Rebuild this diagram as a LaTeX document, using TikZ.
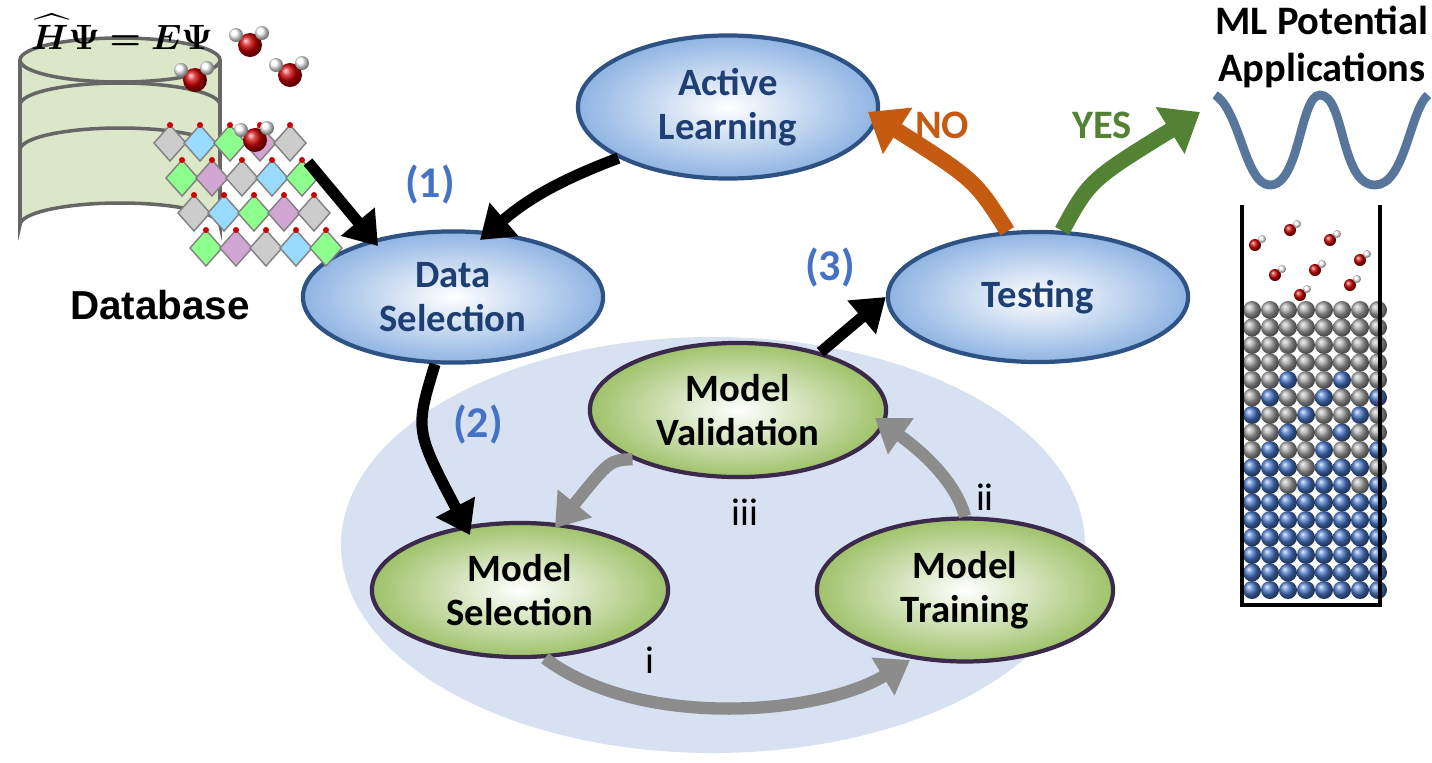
\documentclass[tikz,border=0pt]{standalone}
\usepackage{amsmath}
\usepackage{bm}
\usepackage{fontspec}
\setmainfont{Carlito}
\newfontfamily\arialf{Liberation Sans}
\usetikzlibrary{arrows.meta,shapes.geometric}
\definecolor{bluebord}{HTML}{2E5283}
\definecolor{bluetext}{HTML}{1F3F73}
\definecolor{bluefill}{HTML}{8FB4E3}
\definecolor{greenfill}{HTML}{9FC26A}
\definecolor{greenbord}{HTML}{3B2A4C}
\definecolor{bgblue}{HTML}{D7E1F1}
\definecolor{numblue}{HTML}{4472C4}
\definecolor{noorange}{HTML}{C55A11}
\definecolor{yesgreen}{HTML}{548235}
\definecolor{dbfill}{HTML}{DCE6C8}
\definecolor{ballblue}{HTML}{4A78C8}
\tikzstyle{blue step}=[ellipse, draw=bluebord, line width=1.2pt, inner color=white, outer color=bluefill, minimum width=3cm, minimum height=1.3cm, font=\bfseries\fontsize{11}{12.5}\selectfont, text=bluetext, align=center]
\tikzstyle{green step}=[ellipse, draw=greenbord, line width=1.2pt, inner color=white, outer color=greenfill, minimum width=2.96cm, minimum height=1.24cm, font=\bfseries\fontsize{11}{12.5}\selectfont, align=center]
\tikzstyle{black arrow}=[line width=3.2pt, -{Triangle[length=9pt,width=12pt]}]
\tikzstyle{gray arrow}=[line width=3.5pt, draw=gray!90, -{Triangle[length=9pt,width=12pt]}]
\tikzstyle{wide arrow}=[line width=4.5pt, -{Triangle[length=10pt,width=15pt]}]
\tikzstyle{step label}=[font=\bfseries\fontsize{12.5}{14}\selectfont, text=numblue]
\tikzstyle{roman label}=[font=\fontsize{11}{13}\selectfont]
\begin{document}
\begin{tikzpicture}[x=0.01cm, y=-0.01cm]
  \useasboundingbox (0,0) rectangle (1432,763);
  % background
  \fill [bgblue] (713,545) ellipse [x radius=372, y radius=208];
  % steps
  \node [style=blue step] (al) at (728,107) {Active\\Learning};
  \node [style=blue step] (ds) at (453,297) {Data\\Selection};
  \node [style=blue step] (te) at (1038,297) {Testing};
  \node [style=green step] (mv) at (738,410) {Model\\Validation};
  \node [style=green step] (ms) at (520,590) {Model\\Selection};
  \node [style=green step] (mt) at (965,590) {Model\\Training};
  % database
  \begin{scope}[fill=dbfill, draw=gray!80!black, line width=1pt]
    \filldraw (20,60) -- (20,225) arc [start angle=180, end angle=360, x radius=100, y radius=22] -- (220,60);
    \filldraw (120,60) ellipse [x radius=100, y radius=22];
    \draw (20,105) arc [start angle=180, end angle=360, x radius=100, y radius=22];
    \draw (20,150) arc [start angle=180, end angle=360, x radius=100, y radius=22];
  \end{scope}
  % crystal
  \foreach \i in {0,...,4} {
    \foreach \j in {0,...,3} {
      \pgfmathtruncatemacro{\k}{mod(\i+2*\j,4)}
      \ifcase\k \def\pc{gray!40}\or \def\pc{blue!35!cyan!40}\or \def\pc{green!45}\or \def\pc{violet!35}\fi
      \filldraw [fill=\pc, draw=gray, thin] (170+\i*30+\j*12,125+\j*35) -- +(16,18) -- +(0,36) -- +(-16,18) -- cycle;
      \fill [red!80!black] (170+\i*30+\j*12,125+\j*35) circle (3);
    }
  }
  % molecules
  \foreach \mx/\my in {250/45, 290/75, 195/80, 255/140} {
    \shade [ball color=red!80!black] (\mx,\my) circle (12);
    \shade [ball color=white] (\mx-14,\my-10) circle (7);
    \shade [ball color=white] (\mx+12,\my-12) circle (7);
  }
  \node (db) at (160,305) {\arialf\bfseries\fontsize{11.5}{13}\selectfont Database};
  \node (eq) at (122,32) {\fontsize{10}{12}\selectfont$\bm{\widehat{H}\Psi = E\Psi}$};
  \coordinate (dbout) at (308,162);
  % applications
  \node [align=center, font=\bfseries\fontsize{11.5}{13.5}\selectfont] (ml) at (1322,47) {ML Potential\\Applications};
  \draw [bluebord!80, line width=2.5pt] (1215,95) .. controls (1240,110) and (1245,185) .. (1270,185) .. controls (1300,185) and (1300,95) .. (1320,95) .. controls (1345,95) and (1340,185) .. (1375,185) .. controls (1405,185) and (1410,110) .. (1428,95);
  \foreach \r in {0,...,16} {
    \foreach \c in {0,...,7} {
      \pgfmathtruncatemacro{\bk}{\r<4 ? 0 : (\r<9 ? (mod(\c+\r,3)==0 ? 1 : 0) : (\r<11 ? (mod(\c+\r,4)==0 ? 0 : 1) : 1))}
      \ifnum\bk=0 \def\bc{gray!70}\else \def\bc{ballblue}\fi
      \shade [ball color=\bc] (1252+\c*18,310+\r*17.5) circle (9);
    }
  }
  \foreach \wx/\wy in {1255/245, 1290/230, 1330/240, 1360/260, 1275/275, 1315/270, 1350/285, 1300/295} {
    \shade [ball color=red!80!black] (\wx,\wy) circle (6);
    \shade [ball color=white] (\wx+7,\wy-6) circle (4);
  }
  \draw [line width=1.2pt] (1242,205) -- (1242,605) -- (1380,605) -- (1380,205);
  % arrows
  \draw [style=black arrow] (dbout) -- (378,246);
  \draw [style=black arrow] (al.205) to [bend right=10] (480,240);
  \draw [style=black arrow] (ds.255) .. controls (415,430) .. (470,535);
  \draw [style=black arrow] (mv.35) -- (te.180);
  \draw [style=wide arrow, draw=noorange] (te.115) .. controls (975,180) .. (868,112);
  \draw [style=wide arrow, draw=yesgreen] (te.70) .. controls (1090,180) .. (1200,112);
  \draw [style=gray arrow] (ms.290) .. controls (640,730) and (820,715) .. (910,660);
  \draw [style=gray arrow] (mt.90) .. controls (955,480) and (920,450) .. (875,418);
  \draw [style=gray arrow] (mv.205) .. controls (610,460) .. (555,528);
  % labels
  \node [style=step label] (l1) at (430,185) {(1)};
  \node [style=step label] (l2) at (478,425) {(2)};
  \node [style=step label] (l3) at (830,268) {(3)};
  \node [style=roman label] (li) at (650,660) {i};
  \node [style=roman label] (lii) at (985,497) {ii};
  \node [style=roman label] (liii) at (745,512) {iii};
  \node [font=\bfseries\fontsize{11.5}{13}\selectfont, text=noorange] (no) at (942,125) {NO};
  \node [font=\bfseries\fontsize{11.5}{13}\selectfont, text=yesgreen] (yes) at (1102,125) {YES};
\end{tikzpicture}
\end{document}
